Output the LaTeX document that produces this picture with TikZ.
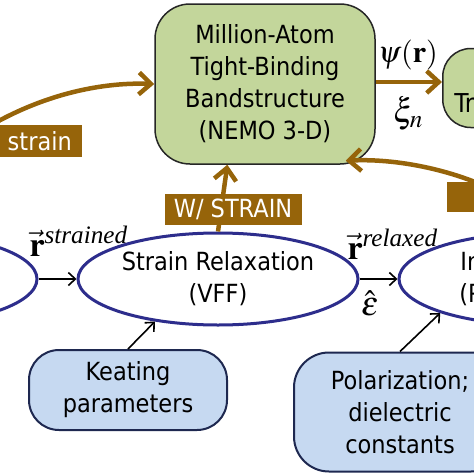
\documentclass[tikz,border=0pt]{standalone}
\usepackage{amsmath}
\usepackage{mathptmx}
\usepackage[no-math]{fontspec}
\usepackage{tikz}
\usetikzlibrary{arrows.meta,shapes.geometric,calc}
\setmainfont{DejaVu Sans Condensed}
\newfontfamily\timesfont{Liberation Serif}
\definecolor{brun}{RGB}{150,100,10}
\definecolor{vertclair}{RGB}{195,214,155}
\definecolor{bleuclair}{RGB}{198,217,241}
\definecolor{marine}{RGB}{45,45,140}
\definecolor{encre}{RGB}{30,40,80}
\newcommand{\posvec}{\vec{\mathbf{r}}}
\newcommand{\supit}[1]{\text{\timesfont\itshape #1}}

\begin{document}
\begin{tikzpicture}[x=1pt, y=-1pt,
  bigfont/.style={font=\fontsize{25}{32}\selectfont},
  mathfont/.style={font=\fontsize{34}{40}\selectfont},
  etape/.style={ellipse, draw=marine, line width=3pt, fill=white,
    minimum width=280pt, minimum height=92pt, inner sep=0pt, align=center, bigfont},
  calcul/.style={rectangle, rounded corners=35pt, draw=black!85, line width=1.5pt,
    fill=vertclair, align=center, bigfont},
  donnee/.style={rectangle, rounded corners=30pt, draw=encre, line width=2pt,
    fill=bleuclair, align=center, bigfont},
  etiquette/.style={fill=brun, text=white, inner sep=0pt, bigfont},
  flux/.style={brun, line width=4.5pt, -{Straight Barb[length=12pt,width=22pt]}},
  lien/.style={black, line width=1.6pt, -{Straight Barb[length=7pt,width=13pt]}},
]
  \useasboundingbox (0,0) rectangle (474,474);
  \fill[white] (0,0) rectangle (474,474);
  \clip (0,0) rectangle (474,474);

  % Le calcul des bandes et ce qui en sort.
  \node[calcul, minimum width=220pt, minimum height=160pt] (nemo) at (265,84)
    {Million-Atom\\Tight-Binding\\Bandstructure\\(NEMO 3-D)};
  \node[calcul, rounded corners=28pt, font=\fontsize{26}{30}\selectfont,
    minimum width=148pt, minimum height=79pt, anchor=west] (optic) at (442,88)
    {Optical\\Transitions};

  % La chaine des etapes.
  \node[etape] (geom) at (-103,279) {};
  \node[etape] (strain) at (218,279) {Strain Relaxation\\(VFF)};
  \node[etape] (champs) at (539,279) {Internal Fields\\(Piezoelectric)};

  % Les parametres d'entree.
  \node[donnee, minimum width=198pt, minimum height=80pt] (keating) at (128,390)
    {Keating\\parameters};
  \node[donnee, rounded corners=35pt, minimum width=212pt, minimum height=119pt]
    (polar) at (400,412) {Polarization;\\dielectric\\constants};

  % Les liens noirs et leurs grandeurs.
  \draw[lien] (geom) -- (strain);
  \draw[lien] (strain) -- (champs);
  \draw[lien] (keating.north) -- (strain.214);
  \draw[lien] (polar.north) -- (champs.199);
  \node[mathfont, anchor=base west] (rstrained) at (26,256) {$\posvec^{\supit{strained}}$};
  \node[mathfont, anchor=base west] (rrelaxed) at (344,259) {$\posvec^{\supit{relaxed}}$};
  \node[mathfont] (epsilon) at (370,303) {$\hat{\varepsilon}$};

  % Les fleches brunes vers et depuis NEMO.
  \draw[flux] (nemo.east |- 0,82) -- (optic.west |- 0,82);
  \node[font=\fontsize{30}{34}\selectfont] (psi) at (408,55) {$\psi(\mathbf{r})$};
  \node[mathfont] (xi) at (408,113) {$\xi_n$};

  \coordinate (gauche) at (-40,145);
  \draw[flux] (gauche) .. controls (30,95) and (100,82) .. (nemo.west);
  \node[etiquette, anchor=east, minimum height=32pt, inner xsep=10pt] (sansstrain)
    at (82,141) {strain};

  \draw[flux] (strain.north) -- ($(nemo.south west)!0.33!(nemo.south east)$);
  \node[etiquette, minimum width=137pt, minimum height=31pt] (avecstrain) at (233,209)
    {W/ STRAIN};

  \coordinate (droite) at (520,205);
  \draw[flux] (droite) .. controls (470,172) and (400,158) .. ($(nemo.south east)+(-30,-4)$);
  \node[etiquette, anchor=west, minimum width=50pt, minimum height=30pt] (droitelabel)
    at (447,197) {};
\end{tikzpicture}
\end{document}
